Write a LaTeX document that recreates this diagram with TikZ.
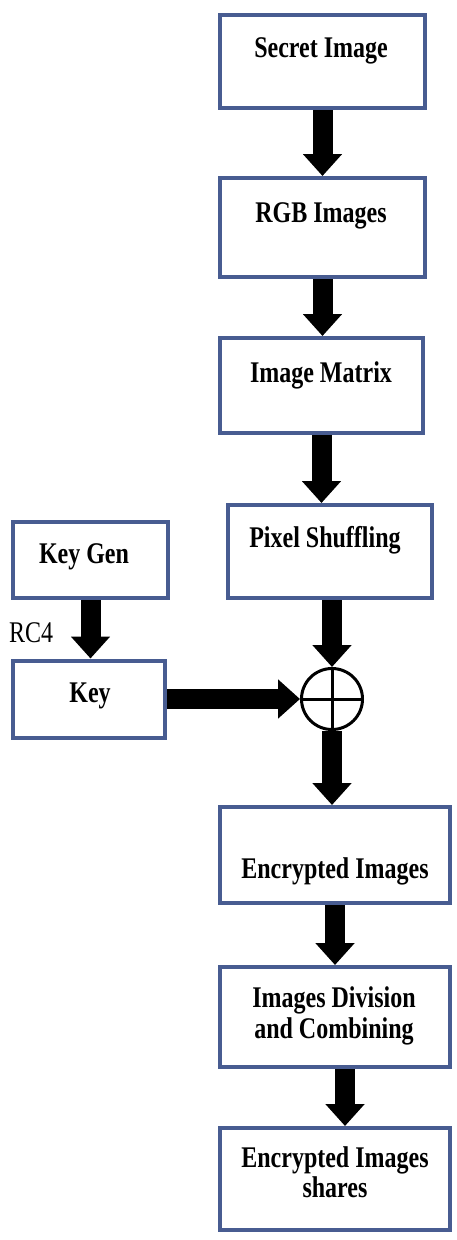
\documentclass[tikz,border=0pt]{standalone}
\usepackage{fontspec}
\setmainfont{Liberation Serif}[FakeStretch=0.8]
\usetikzlibrary{arrows.meta,calc}
\definecolor{boxblue}{RGB}{72,92,145}
\begin{document}
\begin{tikzpicture}[x=1pt,y=-1pt,
  box/.style={draw=boxblue,line width=4pt,fill=white,inner sep=0pt},
  txt/.style={inner sep=0pt,anchor=base,font=\fontsize{30}{31}\selectfont\bfseries},
  plain/.style={inner sep=0pt,anchor=base,font=\fontsize{30}{31}\selectfont},
  bigarrow/.style={line width=20pt,-{Triangle[width=38pt,length=22pt]}},
  xorc/.style={circle,draw=black,line width=3pt,minimum size=61pt,inner sep=0pt}]
\useasboundingbox[fill=white] (0,0) rectangle (456,1240);
% boxes
\node[box,minimum width=205pt,minimum height=93pt] (secret) at (322.5,61.5) {};
\node[box,minimum width=205pt,minimum height=99pt] (rgb) at (322.5,227.5) {};
\node[box,minimum width=203pt,minimum height=95pt] (matrix) at (321.5,385.5) {};
\node[box,minimum width=204pt,minimum height=93pt] (pixel) at (330,551.5) {};
\node[box,minimum width=155pt,minimum height=76pt] (keygen) at (90.5,560) {};
\node[box,minimum width=152pt,minimum height=77pt] (key) at (89,699) {};
\node[xorc] (xo) at (332,699) {};
\node[box,minimum width=230pt,minimum height=96pt] (enc) at (335,855) {};
\node[box,minimum width=230pt,minimum height=100pt] (div) at (335,1017) {};
\node[box,minimum width=230pt,minimum height=102pt] (shares) at (335,1179) {};
% texts
\node[txt] (secretT) at (321,57) {Secret Image};
\node[txt] (rgbT) at (321,222) {RGB Images};
\node[txt] (matrixT) at (321,382) {Image Matrix};
\node[txt] (pixelT) at (325,547) {Pixel Shuffling};
\node[txt] (keygenT) at (84,563) {Key Gen};
\node[txt] (keyT) at (90,702) {Key};
\node[plain,anchor=base west] (rc4) at (9,642) {RC4};
\node[txt] (encT) at (335,878) {Encrypted Images};
\node[txt] (divT1) at (334,1007) {Images Division};
\node[txt] (divT2) at (334,1038) {and Combining};
\node[txt] (sharesT1) at (335,1167) {Encrypted Images};
\node[txt] (sharesT2) at (335,1197) {shares};
% xor cross
\draw[line width=3pt] (xo.north) -- (xo.south);
\draw[line width=3pt] (xo.west) -- (xo.east);
% arrows
\draw[bigarrow] (secret.south) -- (secret.south |- rgb.north);
\draw[bigarrow] (rgb.south) -- (rgb.south |- matrix.north);
\draw[bigarrow] (matrix.south) -- (matrix.south |- pixel.north);
\draw[bigarrow] (xo.north |- pixel.south) -- (xo.north);
\draw[bigarrow] (keygen.south) -- (keygen.south |- key.north);
\draw[bigarrow] (key.east) -- (xo.west);
\draw[bigarrow] (xo.south) -- (xo.south |- enc.north);
\draw[bigarrow] (enc.south) -- (enc.south |- div.north);
\draw[bigarrow] ([xshift=10pt]div.south) -- ([xshift=10pt]shares.north);
\end{tikzpicture}
\end{document}
